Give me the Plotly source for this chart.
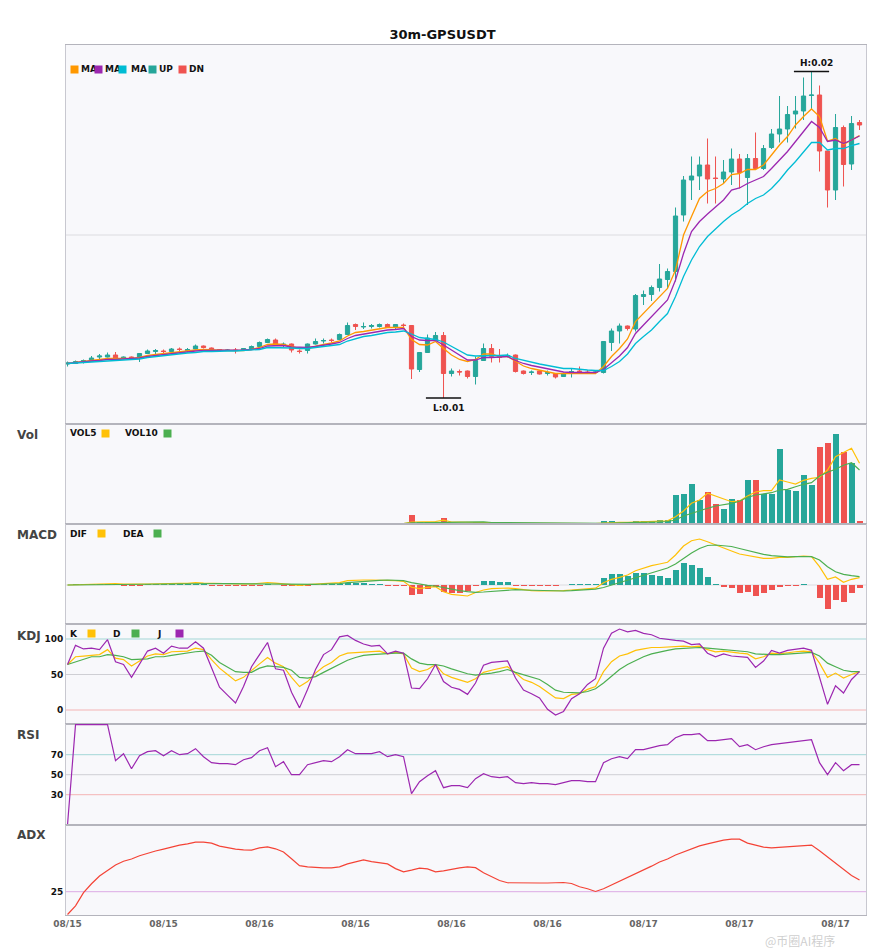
import plotly.graph_objects as go
from plotly.subplots import make_subplots

# 30m klines GPSUSDT, 08/15 12:00 -> 08/17 13:30 (100 bars)
symbol = "GPSUSDT"
interval = "30m"
tick_labels = ["08/15", "08/15", "08/16", "08/16", "08/16", "08/16", "08/17", "08/17", "08/17"]
tick_step = 12

open_ = [0.01342, 0.01343, 0.01347, 0.01347, 0.01356, 0.01356, 0.01360, 0.01353, 0.01356, 0.01356,
         0.01363, 0.01367, 0.01368, 0.01367, 0.01372, 0.01369, 0.01372, 0.01378, 0.01374, 0.01371,
         0.01369, 0.01370, 0.01370, 0.01371, 0.01377, 0.01385, 0.01390, 0.01379, 0.01382, 0.01368,
         0.01369, 0.01382, 0.01388, 0.01390, 0.01391, 0.01401, 0.01421, 0.01416, 0.01417, 0.01417,
         0.01421, 0.01415, 0.01420, 0.01419, 0.01331, 0.01365, 0.01389, 0.01399, 0.01323, 0.01327,
         0.01328, 0.01317, 0.01349, 0.01373, 0.01357, 0.01357, 0.01360, 0.01328, 0.01325, 0.01328,
         0.01323, 0.01323, 0.01317, 0.01326, 0.01328, 0.01326, 0.01325, 0.01325, 0.01385, 0.01408,
         0.01418, 0.01412, 0.01477, 0.01481, 0.01495, 0.01511, 0.01527, 0.01640, 0.01710, 0.01718,
         0.01740, 0.01714, 0.01712, 0.01726, 0.01752, 0.01715, 0.01753, 0.01733, 0.01775, 0.01802,
         0.01812, 0.01842, 0.01848, 0.01879, 0.01880, 0.01768, 0.01690, 0.01815, 0.01742, 0.01825]
high = [0.01347, 0.01349, 0.01351, 0.01358, 0.01362, 0.01365, 0.01366, 0.01357, 0.01357, 0.01364,
        0.01371, 0.01372, 0.01371, 0.01374, 0.01375, 0.01374, 0.01381, 0.01379, 0.01375, 0.01372,
        0.01372, 0.01374, 0.01374, 0.01379, 0.01387, 0.01393, 0.01393, 0.01385, 0.01383, 0.01371,
        0.01383, 0.01393, 0.01393, 0.01393, 0.01403, 0.01425, 0.01423, 0.01425, 0.01422, 0.01423,
        0.01423, 0.01422, 0.01423, 0.01420, 0.01366, 0.01401, 0.01406, 0.01406, 0.01333, 0.01331,
        0.01329, 0.01357, 0.01383, 0.01382, 0.01372, 0.01363, 0.01361, 0.01329, 0.01329, 0.01329,
        0.01329, 0.01323, 0.01325, 0.01332, 0.01337, 0.01330, 0.01328, 0.01388, 0.01413, 0.01423,
        0.01419, 0.01482, 0.01489, 0.01499, 0.01542, 0.01533, 0.01655, 0.01718, 0.01757, 0.01757,
        0.01793, 0.01757, 0.01750, 0.01773, 0.01762, 0.01762, 0.01805, 0.01780, 0.01812, 0.01878,
        0.01858, 0.01878, 0.01915, 0.01927, 0.01899, 0.01768, 0.01842, 0.01819, 0.01838, 0.01830]
low = [0.01337, 0.01342, 0.01343, 0.01347, 0.01351, 0.01355, 0.01353, 0.01351, 0.01351, 0.01346,
       0.01362, 0.01362, 0.01361, 0.01365, 0.01367, 0.01365, 0.01371, 0.01373, 0.01370, 0.01368,
       0.01368, 0.01363, 0.01369, 0.01371, 0.01375, 0.01385, 0.01378, 0.01376, 0.01365, 0.01363,
       0.01363, 0.01381, 0.01383, 0.01385, 0.01390, 0.01400, 0.01410, 0.01412, 0.01413, 0.01415,
       0.01414, 0.01412, 0.01415, 0.01312, 0.01326, 0.01364, 0.01388, 0.01274, 0.01317, 0.01319,
       0.01313, 0.01301, 0.01348, 0.01345, 0.01345, 0.01355, 0.01325, 0.01321, 0.01320, 0.01321,
       0.01319, 0.01313, 0.01316, 0.01315, 0.01323, 0.01323, 0.01323, 0.01323, 0.01368, 0.01383,
       0.01409, 0.01407, 0.01460, 0.01468, 0.01487, 0.01493, 0.01507, 0.01627, 0.01670, 0.01690,
       0.01663, 0.01663, 0.01704, 0.01700, 0.01693, 0.01660, 0.01730, 0.01730, 0.01772, 0.01785,
       0.01785, 0.01813, 0.01830, 0.01850, 0.01727, 0.01655, 0.01670, 0.01697, 0.01730, 0.01810]
close = [0.01344, 0.01347, 0.01349, 0.01354, 0.01358, 0.01360, 0.01353, 0.01356, 0.01353, 0.01363,
         0.01368, 0.01369, 0.01367, 0.01372, 0.01371, 0.01371, 0.01378, 0.01375, 0.01371, 0.01370,
         0.01370, 0.01369, 0.01373, 0.01377, 0.01385, 0.01391, 0.01379, 0.01382, 0.01370, 0.01367,
         0.01382, 0.01387, 0.01389, 0.01389, 0.01401, 0.01419, 0.01417, 0.01417, 0.01419, 0.01421,
         0.01415, 0.01421, 0.01419, 0.01332, 0.01365, 0.01394, 0.01399, 0.01323, 0.01328, 0.01326,
         0.01317, 0.01349, 0.01373, 0.01357, 0.01355, 0.01359, 0.01327, 0.01323, 0.01326, 0.01322,
         0.01325, 0.01316, 0.01323, 0.01327, 0.01327, 0.01325, 0.01326, 0.01387, 0.01408, 0.01418,
         0.01413, 0.01479, 0.01481, 0.01495, 0.01512, 0.01527, 0.01638, 0.01710, 0.01718, 0.01740,
         0.01712, 0.01713, 0.01726, 0.01752, 0.01725, 0.01753, 0.01733, 0.01773, 0.01802, 0.01812,
         0.01841, 0.01848, 0.01878, 0.01880, 0.01768, 0.01690, 0.01815, 0.01741, 0.01823, 0.01820]

# moving averages as drawn (fast / mid / slow)
ma_fast = [0.01343, 0.01345, 0.01347, 0.01349, 0.01351, 0.01353, 0.01353, 0.01353, 0.01353, 0.01355,
           0.01359, 0.01361, 0.01363, 0.01365, 0.01367, 0.01368, 0.01370, 0.01371, 0.01370, 0.01369,
           0.01369, 0.01369, 0.01369, 0.01371, 0.01375, 0.01381, 0.01382, 0.01381, 0.01377, 0.01373,
           0.01374, 0.01378, 0.01381, 0.01384, 0.01388, 0.01398, 0.01405, 0.01407, 0.01410, 0.01413,
           0.01415, 0.01415, 0.01415, 0.01391, 0.01381, 0.01380, 0.01387, 0.01373, 0.01360, 0.01351,
           0.01347, 0.01351, 0.01362, 0.01362, 0.01357, 0.01357, 0.01347, 0.01338, 0.01333, 0.01330,
           0.01327, 0.01323, 0.01323, 0.01323, 0.01323, 0.01323, 0.01323, 0.01337, 0.01357, 0.01373,
           0.01392, 0.01427, 0.01443, 0.01460, 0.01477, 0.01493, 0.01530, 0.01600, 0.01637, 0.01673,
           0.01687, 0.01693, 0.01703, 0.01721, 0.01723, 0.01731, 0.01731, 0.01740, 0.01760, 0.01780,
           0.01797, 0.01820, 0.01837, 0.01852, 0.01837, 0.01788, 0.01793, 0.01781, 0.01790, 0.01799]
ma_mid = [0.01343, 0.01345, 0.01346, 0.01348, 0.01349, 0.01351, 0.01351, 0.01352, 0.01352, 0.01354,
          0.01357, 0.01359, 0.01361, 0.01363, 0.01365, 0.01367, 0.01368, 0.01369, 0.01369, 0.01369,
          0.01369, 0.01369, 0.01370, 0.01371, 0.01373, 0.01378, 0.01379, 0.01379, 0.01376, 0.01375,
          0.01375, 0.01377, 0.01379, 0.01382, 0.01385, 0.01393, 0.01399, 0.01402, 0.01405, 0.01408,
          0.01410, 0.01411, 0.01413, 0.01397, 0.01390, 0.01389, 0.01389, 0.01380, 0.01370, 0.01360,
          0.01350, 0.01350, 0.01355, 0.01355, 0.01356, 0.01357, 0.01349, 0.01343, 0.01339, 0.01336,
          0.01333, 0.01329, 0.01326, 0.01325, 0.01325, 0.01325, 0.01325, 0.01331, 0.01345, 0.01358,
          0.01375, 0.01403, 0.01420, 0.01437, 0.01453, 0.01470, 0.01510, 0.01563, 0.01607, 0.01627,
          0.01642, 0.01657, 0.01670, 0.01690, 0.01694, 0.01703, 0.01710, 0.01717, 0.01733, 0.01750,
          0.01767, 0.01787, 0.01807, 0.01827, 0.01815, 0.01787, 0.01790, 0.01783, 0.01790, 0.01798]
ma_slow = [0.01343, 0.01344, 0.01345, 0.01346, 0.01347, 0.01349, 0.01349, 0.01350, 0.01351, 0.01352,
           0.01355, 0.01357, 0.01359, 0.01361, 0.01363, 0.01364, 0.01365, 0.01367, 0.01367, 0.01368,
           0.01368, 0.01368, 0.01369, 0.01369, 0.01371, 0.01375, 0.01375, 0.01375, 0.01374, 0.01373,
           0.01373, 0.01375, 0.01377, 0.01379, 0.01381, 0.01388, 0.01393, 0.01397, 0.01399, 0.01402,
           0.01405, 0.01406, 0.01408, 0.01402, 0.01395, 0.01393, 0.01391, 0.01386, 0.01377, 0.01369,
           0.01360, 0.01358, 0.01359, 0.01359, 0.01359, 0.01360, 0.01353, 0.01349, 0.01345, 0.01342,
           0.01339, 0.01336, 0.01333, 0.01333, 0.01331, 0.01330, 0.01329, 0.01329, 0.01337, 0.01347,
           0.01362, 0.01383, 0.01397, 0.01410, 0.01427, 0.01443, 0.01477, 0.01517, 0.01550, 0.01577,
           0.01597, 0.01613, 0.01627, 0.01640, 0.01650, 0.01663, 0.01673, 0.01680, 0.01693, 0.01710,
           0.01730, 0.01747, 0.01767, 0.01785, 0.01785, 0.01770, 0.01773, 0.01773, 0.01779, 0.01783]

volume = [30, 20, 30, 40, 30, 30, 30, 20, 20, 40, 30, 20, 20, 30, 20, 20, 40, 30, 20, 20,
          20, 20, 20, 30, 40, 40, 50, 30, 40, 30, 40, 40, 30, 20, 40, 60, 40, 30, 20, 30,
          30, 30, 20, 900, 130, 130, 130, 600, 100, 100, 100, 120, 150, 80, 80, 60, 100, 60, 50, 50,
          50, 60, 50, 50, 50, 40, 40, 300, 300, 100, 70, 300, 300, 300, 400, 400, 2900, 3000, 4000, 2400,
          3200, 2000, 1500, 2500, 2400, 4400, 4400, 3000, 3000, 7500, 3400, 3330, 4900, 3900, 7730, 8100,
          9000, 7200, 6130, 300]
vol5 = [30, 30, 30, 30, 30, 30, 30, 30, 30, 30, 30, 30, 30, 30, 30, 30, 30, 30, 30, 30,
        30, 30, 30, 30, 30, 30, 30, 30, 30, 30, 30, 30, 30, 30, 30, 40, 40, 40, 40, 40,
        30, 30, 30, 200, 220, 230, 250, 380, 200, 200, 180, 150, 110, 100, 100, 90, 90, 70, 70, 60,
        60, 50, 50, 50, 50, 50, 45, 90, 150, 160, 170, 210, 230, 260, 290, 320, 730, 1300, 2070, 2400,
        3070, 2800, 2500, 2230, 2300, 2800, 3200, 3330, 3330, 4400, 4200, 4000, 4370, 4570, 4670, 5400,
        6730, 7170, 7570, 6070]
vol10 = [30, 30, 30, 30, 30, 30, 30, 30, 30, 30, 30, 30, 30, 30, 30, 30, 30, 30, 30, 30,
         30, 30, 30, 30, 30, 30, 30, 30, 30, 30, 30, 30, 30, 30, 30, 30, 30, 30, 30, 30,
         30, 30, 30, 110, 120, 130, 140, 200, 200, 210, 210, 210, 220, 150, 140, 130, 130, 110, 90, 80,
         60, 50, 40, 40, 30, 30, 30, 60, 90, 100, 110, 130, 150, 180, 210, 250, 400, 800, 1070, 1330,
         1570, 1800, 1930, 2070, 2270, 2670, 2900, 3000, 3130, 3400, 3470, 3730, 3970, 4130, 4800, 5170,
         5470, 5870, 6130, 5400]

# MACD, in 1e-5 USDT
dif = [0, 0.6, 1, 1.4, 2, 3.4, 2.6, 2, 1.4, 1.6, 2, 2.6, 3, 3, 3.4, 3.4, 4.6, 3.6, 3, 2.4,
       2, 2, 2, 2, 3, 5, 3.6, 2.6, 0.6, -0.6, 0.6, 1.4, 2.6, 3.4, 4.6, 8.6, 10, 10, 10, 10,
       8.6, 8.6, 7.4, -4.6, -7.4, -4.6, -3.4, -13.4, -18.6, -20, -22, -15, -10, -7.4, -6.6, -6, -7.4, -10, -11.4, -12,
       -12, -12, -11.4, -10, -9, -8.4, -6.4, 4.6, 11.4, 15.4, 20, 28.6, 34, 38.6, 42, 45.4, 60, 78, 88.6, 92,
       86.6, 80, 73.4, 68, 62, 59.4, 55.4, 53.4, 53.4, 55.4, 55.4, 56.6, 58, 56.6, 36.6, 11.4, 16, 5.4, 11.4, 14.6]
dea = [0, 0.2, 0.4, 0.6, 1, 1.4, 1.6, 1.8, 1.8, 1.8, 1.8, 2, 2.2, 2.4, 2.6, 2.8, 3.2, 3.2, 3.2, 3,
       2.8, 2.6, 2.6, 2.4, 2.6, 3, 3, 2.8, 2.4, 1.8, 1.4, 1.4, 2, 2, 2.6, 4.6, 6, 7.4, 8.6, 9.4,
       10, 9.4, 8.6, 4.6, 1.4, -0.6, -2, -5.4, -8.6, -11.4, -13.4, -14.6, -14, -12.6, -11.4, -10, -9.4, -10, -10.6, -11.4,
       -12, -12, -12, -11.4, -10.4, -9.4, -8.4, -5, 0, 4, 8.6, 14, 19, 24, 29, 34, 42, 53, 64, 73,
       79, 80, 79, 77, 73, 69, 65.4, 61.4, 58.6, 57, 56.4, 56.6, 56.6, 56.6, 50, 36.6, 26.6, 21.4, 18.6, 16.6]
macd_hist = [0, 0.6, 0.6, 0.6, 0.6, 1.4, 0.4, -0.4, -1.4, -0.4, 0.4, 1, 0.6, 1.4, 0.6, 0.6, 1.4, 0.4, -1.4, -1.6,
             -2, -2, -1.4, -1.4, -0.6, 1.4, 0, -0.6, -1.4, -2, -0.6, 0, 0.6, 1, 2, 4, 4, 2.6, 1.4, 0.6,
             -1.4, -0.6, -1.4, -20, -18, -8, -2.6, -14.6, -16.6, -15.4, -12, -1, 8.6, 8, 6, 6, -0.6, -2, -2, -2,
             -2, -1.4, 0, 1.4, 1.4, 1.4, 1.4, 14, 22, 22, 18.6, 24.6, 24.6, 20, 18, 14, 30, 43.4, 40, 34,
             16, 1.4, -4.6, -6.6, -16.6, -14.6, -21.4, -15.4, -10, -4.6, -2, -1.4, 1.4, 0, -25.4, -48.6, -30, -33.4, -15.4, -6.6]

kdj_k = [64, 75, 76, 77, 78, 85, 73, 71, 62, 69, 76, 79, 78, 82, 82, 83, 87, 85, 71, 59,
         50, 41, 46, 56, 65, 74, 66, 61, 46, 33, 40, 52, 61, 67, 76, 80, 81, 82, 83, 83,
         79, 81, 79, 59, 54, 57, 64, 51, 46, 43, 39, 44, 53, 56, 58, 61, 52, 43, 39, 33,
         25, 17, 16, 22, 23, 29, 33, 54, 68, 76, 79, 84, 86, 88, 88, 89, 90, 90, 89, 90,
         85, 82, 83, 81, 80, 79, 72, 75, 80, 79, 81, 82, 83, 82, 66, 46, 52, 45, 50, 54]
kdj_d = [64, 68, 72, 75, 75, 78, 77, 75, 71, 71, 72, 75, 75, 77, 79, 80, 82, 83, 77, 67,
         61, 54, 53, 53, 59, 62, 61, 60, 56, 46, 45, 47, 53, 59, 64, 70, 74, 77, 78, 79,
         79, 80, 80, 72, 66, 64, 64, 62, 58, 54, 51, 49, 50, 52, 54, 57, 53, 50, 46, 43,
         36, 28, 25, 24, 24, 26, 30, 38, 48, 57, 64, 70, 75, 79, 82, 84, 86, 87, 88, 88,
         87, 86, 85, 84, 83, 82, 79, 78, 78, 78, 79, 80, 81, 81, 76, 66, 61, 56, 54, 54]
kdj_j = [64, 91, 86, 87, 85, 99, 68, 64, 46, 65, 83, 87, 80, 90, 87, 87, 96, 87, 59, 32,
         21, 10, 33, 61, 78, 95, 58, 56, 25, 3, 29, 57, 78, 85, 103, 105, 98, 93, 90, 91,
         79, 83, 80, 31, 30, 44, 64, 40, 32, 29, 22, 38, 63, 67, 68, 69, 45, 28, 23, 17,
         1, -7, -2, 16, 23, 36, 44, 87, 108, 114, 110, 112, 108, 106, 101, 99, 98, 97, 92, 93,
         80, 75, 79, 76, 75, 74, 60, 69, 84, 80, 84, 86, 87, 84, 46, 8, 34, 24, 43, 54]

rsi = [0, 100, 100, 100, 100, 100, 64, 71, 56, 69, 73, 74, 69, 74, 70, 71, 76, 68, 62, 61,
       61, 60, 65, 67, 74, 77, 58, 63, 50, 50, 60, 62, 64, 63, 68, 75, 71, 71, 71, 73,
       68, 70, 68, 31, 43, 49, 54, 37, 39, 39, 37, 46, 51, 48, 47, 48, 42, 41, 42, 41,
       41, 40, 42, 44, 44, 43, 43, 62, 66, 68, 66, 75, 75, 77, 79, 80, 87, 90, 90, 91,
       84, 84, 85, 86, 78, 80, 75, 78, 80, 81, 82, 83, 84, 85, 62, 50, 62, 54, 60, 60]

adx = [15.8, 19.3, 24.6, 28.2, 31.3, 33.5, 35.8, 37.3, 38.2, 39.5, 40.6, 41.4, 42.2, 43.1, 43.8, 44.3, 45, 45, 44.6, 43.4,
       42.7, 42.2, 41.9, 41.8, 42.7, 43.1, 42.3, 41, 38.3, 35.5, 35, 34.7, 34.6, 34.6, 35, 36.2, 37, 37.8, 37.1, 36.6,
       36.2, 34.3, 33, 33.7, 34.5, 34.2, 33, 33.4, 34.1, 34.6, 35, 34.7, 32.6, 30.9, 29.5, 28.6, 28.5, 28.5, 28.5, 28.5,
       28.5, 28.7, 28.7, 28.3, 27, 26.2, 25.1, 26.2, 27.7, 29.1, 30.5, 32.1, 33.7, 35.3, 37, 38.2, 39.8, 41.1, 42.5, 43.5,
       44.3, 45.1, 45.8, 46.2, 46.2, 44.6, 43.8, 43, 42.7, 42.9, 43.1, 43.1, 43.4, 43.8, 41.5, 39, 36.3, 33.8, 31.5, 29.7]

UP = "#26a69a"
DN = "#ef5350"
ORANGE = "#ff9800"
PURPLE = "#9c27b0"
CYAN = "#00bcd4"
YELLOW = "#ffc107"
GREEN = "#4caf50"
FONT = "DejaVu Sans"

# page body keeps an 8px margin, so the figure is drawn 8px smaller and margins trimmed
W, H = 877, 942
n = len(close)
x = list(range(n))
bar_colors = [UP if c >= o else DN for o, c in zip(open_, close)]
hist_colors = [UP if h >= 0 else DN for h in macd_hist]

fig = make_subplots(rows=6, cols=1, shared_xaxes=True, vertical_spacing=0,
                    row_heights=[379, 100, 100, 100, 101, 90])

# price
fig.add_trace(go.Candlestick(x=x, open=open_, high=high, low=low, close=close,
                             increasing=dict(line=dict(color=UP, width=1), fillcolor=UP),
                             decreasing=dict(line=dict(color=DN, width=1), fillcolor=DN),
                             whiskerwidth=0), row=1, col=1)
for ma, col in [(ma_fast, ORANGE), (ma_mid, PURPLE), (ma_slow, CYAN)]:
    fig.add_trace(go.Scatter(x=x, y=ma, mode="lines", line=dict(color=col, width=1.3)), row=1, col=1)

# volume
fig.add_trace(go.Bar(x=x, y=volume, marker_color=bar_colors, marker_line_width=0, width=0.75), row=2, col=1)
fig.add_trace(go.Scatter(x=x, y=vol5, mode="lines", line=dict(color=YELLOW, width=1.2)), row=2, col=1)
fig.add_trace(go.Scatter(x=x, y=vol10, mode="lines", line=dict(color=GREEN, width=1.2)), row=2, col=1)

# macd
fig.add_trace(go.Bar(x=x, y=macd_hist, marker_color=hist_colors, marker_line_width=0, width=0.75), row=3, col=1)
fig.add_trace(go.Scatter(x=x, y=dif, mode="lines", line=dict(color=YELLOW, width=1.2)), row=3, col=1)
fig.add_trace(go.Scatter(x=x, y=dea, mode="lines", line=dict(color=GREEN, width=1.2)), row=3, col=1)

# kdj
for s, col in [(kdj_k, YELLOW), (kdj_d, GREEN), (kdj_j, PURPLE)]:
    fig.add_trace(go.Scatter(x=x, y=s, mode="lines", line=dict(color=col, width=1.2)), row=4, col=1)

# rsi / adx
fig.add_trace(go.Scatter(x=x, y=rsi, mode="lines", line=dict(color=PURPLE, width=1.2)), row=5, col=1)
fig.add_trace(go.Scatter(x=x, y=adx, mode="lines", line=dict(color="#f44336", width=1.2)), row=6, col=1)

# reference lines
fig.add_hline(y=0.016, line=dict(color="#dcdce0", width=1), layer="below", row=1, col=1)
fig.add_hline(y=0, line=dict(color="#dcdce0", width=1), layer="below", row=3, col=1)
for lvl, col in [(100, "#a3d7d7"), (50, "#cfcfd4"), (0, "#f4b4b4")]:
    fig.add_hline(y=lvl, line=dict(color=col, width=1), layer="below", row=4, col=1)
for lvl, col in [(70, "#a3d7d7"), (50, "#cfcfd4"), (30, "#f4b4b4")]:
    fig.add_hline(y=lvl, line=dict(color=col, width=1), layer="below", row=5, col=1)
fig.add_hline(y=25, line=dict(color="#dcaae4", width=1), layer="below", row=6, col=1)

# highest / lowest marks
i_hi = high.index(max(high))
i_lo = low.index(min(low))
for i, yv, label, ys in [(i_hi, high[i_hi], "H", 9), (i_lo, low[i_lo], "L", -10)]:
    fig.add_shape(type="line", x0=i - 2.2, x1=i + 2.2, y0=yv, y1=yv, xref="x", yref="y",
                  line=dict(color="#111", width=1.5))
    fig.add_annotation(x=i, y=yv, xref="x", yref="y", text=f"<b>{label}:{yv:.2f}</b>", showarrow=False,
                       xshift=5, yshift=ys, font=dict(family=FONT, size=9, color="#111"))


def px_x(px):
    return (px - 66) / 800


def px_y(py):
    return (915 - py) / 870


def label(px, py, txt, size=9, color="#111"):
    fig.add_annotation(x=px_x(px), y=px_y(py), xref="paper", yref="paper", text=f"<b>{txt}</b>",
                       showarrow=False, xanchor="left", yanchor="middle", borderpad=0, borderwidth=0,
                       font=dict(family=FONT, size=size, color=color))


def legend_box(px, py, col):
    fig.add_annotation(x=px_x(px), y=px_y(py), xref="paper", yref="paper", text=" ",
                       showarrow=False, xanchor="center", yanchor="middle", width=7, height=7,
                       borderpad=0, bgcolor=col, font=dict(size=1))


# main legend: box then label
main_items = [(74, 81, "MA", ORANGE), (98, 105, "MA", PURPLE), (122, 131, "MA", CYAN),
              (152, 159, "UP", UP), (182, 189, "DN", DN)]
for bx, tx, txt, col in main_items:
    label(tx, 69, txt)
for bx, tx, txt, col in main_items:
    legend_box(bx, 69, col)

# sub panel legends: label then box
for py, items in [(433.5, [(70, "VOL5", 105, YELLOW), (125, "VOL10", 167, GREEN)]),
                  (533.5, [(70, "DIF", 101, YELLOW), (123, "DEA", 157, GREEN)]),
                  (633.5, [(70, "K", 91, YELLOW), (113, "D", 135, GREEN), (157, "J", 179, PURPLE)])]:
    for tx, txt, bx, col in items:
        label(tx, py, txt)
        legend_box(bx, py, col)

# panel names
for name, py in [("Vol", 435), ("MACD", 535), ("KDJ", 636), ("RSI", 735), ("ADX", 835)]:
    label(17, py, name, size=12, color="#444")

# watermark, kept just under the date labels
fig.add_annotation(x=px_x(800), y=px_y(940), xref="paper", yref="paper", text="@币圈AI程序",
                   showarrow=False, xanchor="center", yanchor="middle", borderpad=0,
                   font=dict(family="Noto Sans CJK SC", size=12, color="rgba(190,190,190,0.75)"))

fig.update_xaxes(range=[-0.19, 99.81], rangeslider_visible=False, ticks="", showline=True, mirror=True,
                 linecolor="#b4b4bc", linewidth=1, showgrid=False, zeroline=False)
fig.update_xaxes(tickvals=list(range(0, n, tick_step))[:len(tick_labels)], ticktext=tick_labels,
                 tickfont=dict(family=FONT, size=9, color="#666", weight="bold"), row=6, col=1)
fig.update_yaxes(ticks="", showticklabels=False, showline=True, mirror=True,
                 linecolor="#c8c8d0", linewidth=1, showgrid=False, zeroline=False)
fig.update_yaxes(range=[0.01222, 0.0198], row=1, col=1)
fig.update_yaxes(range=[0, 10000], row=2, col=1)
fig.update_yaxes(range=[-78, 122], row=3, col=1)
tick_font = dict(family=FONT, size=9, color="#111", weight="bold")
fig.update_yaxes(range=[-19.7, 121.1], tickvals=[0, 50, 100], showticklabels=True, tickfont=tick_font, row=4, col=1)
fig.update_yaxes(range=[-0.3, 100.7], tickvals=[30, 50, 70], showticklabels=True, tickfont=tick_font, row=5, col=1)
fig.update_yaxes(range=[15.6, 51.9], tickvals=[25], showticklabels=True, tickfont=tick_font, row=6, col=1)

fig.update_layout(
    title=dict(text=f"<b>{interval}-{symbol}</b>", x=434.5 / W, xref="container", xanchor="center",
               y=1 - 26 / H, yref="container", yanchor="middle",
               font=dict(family=FONT, size=13, color="#111")),
    width=W, height=H,
    margin=dict(l=58, r=19, t=37, b=35),
    paper_bgcolor="white", plot_bgcolor="#f8f8fb",
    showlegend=False, bargap=0, boxgap=0.25,
    font=dict(family=FONT),
)

fig.write_html("out.html")
